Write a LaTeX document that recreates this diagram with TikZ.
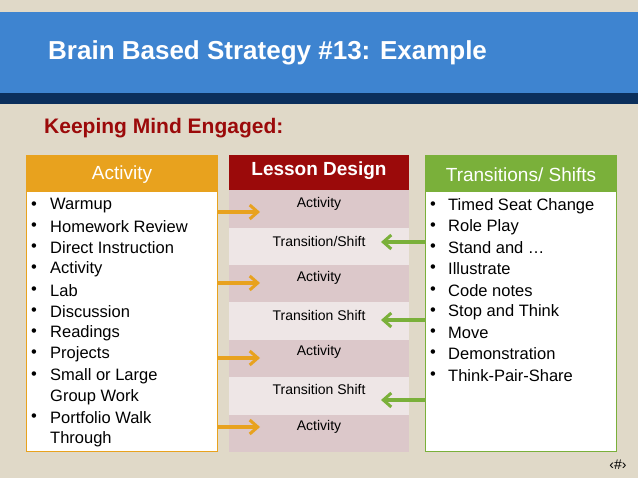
\documentclass[tikz,border=0pt]{standalone}
\usepackage{fontspec}
\setmainfont{Liberation Sans}
\usetikzlibrary{arrows.meta}
\definecolor{bg}{HTML}{E0D9C8}
\definecolor{blueband}{HTML}{3E84D0}
\definecolor{navy}{HTML}{0B2F5C}
\definecolor{dred}{HTML}{9B0A0A}
\definecolor{gold}{HTML}{E8A21E}
\definecolor{grn}{HTML}{7AB03A}
\definecolor{pinkA}{HTML}{DCC8CA}
\definecolor{pinkB}{HTML}{EEE6E6}
\begin{document}
\begin{tikzpicture}[x=1pt,y=-1pt,
  hdr/.style={anchor=center,text=white,font=\fontsize{19}{19}\selectfont},
  li/.style={anchor=west,font=\fontsize{16.5}{16.5}\selectfont,inner sep=0},
  row/.style={anchor=center,font=\fontsize{14}{14}\selectfont},
  oarr/.style={-{Straight Barb[length=8pt,width=14pt,line width=3pt]},line width=4pt,gold},
  garr/.style={-{Straight Barb[length=8pt,width=14pt,line width=3pt]},line width=4pt,grn}]
\fill[bg] (0,0) rectangle (638,478);
\useasboundingbox (0,0) rectangle (638,478);
\fill[blueband] (0,12) rectangle (638,93);
\fill[navy] (0,93) rectangle (638,104);
\node[anchor=west,text=white,font=\bfseries\fontsize{26}{26}\selectfont,inner sep=0] (title) at (48,53) {Brain Based Strategy \#13: Example};
\node[anchor=west,text=dred,font=\bfseries\fontsize{21}{21}\selectfont,inner sep=0] (sub) at (44,128) {Keeping Mind Engaged:};
% left column
\fill[gold] (26,155) rectangle (218,192);
\draw[gold,fill=white,line width=1pt] (26.5,192) rectangle (217.5,451.5);
\node[hdr] (acth) at (122,175) {Activity};
% right column
\fill[grn] (425,155) rectangle (617,192);
\draw[grn,fill=white,line width=1pt] (425.5,192) rectangle (616.5,451.5);
\node[hdr] (trh) at (521,175) {Transitions/ Shifts};
% middle column
\fill[dred] (229,155) rectangle (409,190);
\node[hdr,font=\bfseries\fontsize{19}{19}\selectfont] (ldh) at (319,171) {Lesson Design};
\fill[pinkA] (229,190) rectangle (409,228);
\fill[pinkB] (229,228) rectangle (409,265);
\fill[pinkA] (229,265) rectangle (409,302);
\fill[pinkB] (229,302) rectangle (409,340);
\fill[pinkA] (229,340) rectangle (409,377);
\fill[pinkB] (229,377) rectangle (409,415);
\fill[pinkA] (229,415) rectangle (409,452);
\node[row] (r1) at (319,204) {Activity};
\node[row] (r2) at (319,241) {Transition/Shift};
\node[row] (r3) at (319,278) {Activity};
\node[row] (r4) at (319,315) {Transition Shift};
\node[row] (r5) at (319,352) {Activity};
\node[row] (r6) at (319,389) {Transition Shift};
\node[row] (r7) at (319,427) {Activity};
% left list
\foreach \t/\y in {Warmup/206,Homework Review/227,Direct Instruction/248,Activity/269,Lab/291,Discussion/312,Readings/333,Projects/354,Small or Large/376,Portfolio Walk/418}{
  \node[li] at (31,\y) {•};
  \node[li] at (50,\y) {\t};}
\node[li] at (50,397) {Group Work};
\node[li] at (50,439) {Through};
% right list
\foreach \t/\y in {Timed Seat Change/206,Role Play/227,Stand and …/248,Illustrate/269,Code notes/291,Stop and Think/312,Move/333,Demonstration/354,Think-Pair-Share/376}{
  \node[li] at (430,\y) {•};
  \node[li] at (448,\y) {\t};}
% arrows
\coordinate (oa1) at (218,212); \coordinate (ob1) at (260,212);
\coordinate (oa2) at (218,283); \coordinate (ob2) at (260,283);
\coordinate (oa3) at (218,358); \coordinate (ob3) at (260,358);
\coordinate (oa4) at (218,427); \coordinate (ob4) at (260,427);
\foreach \i in {1,2,3,4}{\draw[oarr] (oa\i) -- (ob\i);}
\coordinate (ga1) at (425,242); \coordinate (gb1) at (381,242);
\coordinate (ga2) at (425,320); \coordinate (gb2) at (381,320);
\coordinate (ga3) at (425,400); \coordinate (gb3) at (381,400);
\foreach \i in {1,2,3}{\draw[garr] (ga\i) -- (gb\i);}
\node[font=\fontsize{14}{14}\selectfont] (pg) at (618,465) {‹\#›};
\end{tikzpicture}
\end{document}
